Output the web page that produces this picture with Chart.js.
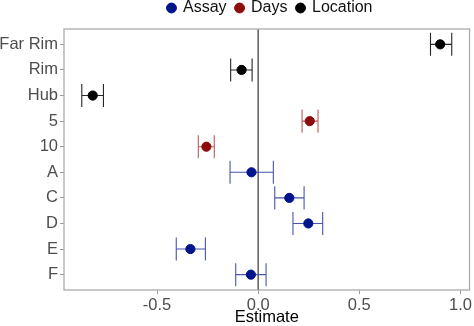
<!DOCTYPE html>
<html>
<head>
<meta charset="utf-8">
<script src="https://cdn.jsdelivr.net/npm/chart.js@4"></script>
<style>
  body { margin: 0; background: #fff; }
  #box { width: 474px; height: 326px; }
</style>
</head>
<body>
<div id="box"><canvas id="grafico"></canvas></div>
<script>
const categories = ['Far Rim', 'Rim', 'Hub', '5', '10', 'A', 'C', 'D', 'E', 'F'];
const groups = ['Location', 'Location', 'Location', 'Days', 'Days', 'Assay', 'Assay', 'Assay', 'Assay', 'Assay'];
const estimates = [0.900, -0.082, -0.818, 0.255, -0.256, -0.033, 0.154, 0.248, -0.335, -0.036];
const lower = [0.852, -0.136, -0.872, 0.217, -0.296, -0.139, 0.082, 0.172, -0.405, -0.111];
const upper = [0.957, -0.030, -0.765, 0.296, -0.217, 0.075, 0.227, 0.319, -0.261, 0.039];
const seriesNames = ['Assay', 'Days', 'Location'];
const xTicks = [-0.5, 0, 0.5, 1.0];

const cores = {
  Assay: { ponto: '#00158c', barra: '#4755ad' },
  Days: { ponto: '#8e0b0b', barra: '#bd5b5b' },
  Location: { ponto: '#000000', barra: '#262626' }
};

const fonte = "'Liberation Sans', Arial, sans-serif";

const datasets = seriesNames.map(nome => {
  const pontos = [];
  categories.forEach((cat, i) => {
    if (groups[i] === nome) {
      pontos.push({ x: estimates[i], y: i, lo: lower[i], hi: upper[i] });
    }
  });
  return {
    label: nome,
    data: pontos,
    xAxisID: 'x',
    yAxisID: 'y',
    backgroundColor: cores[nome].ponto,
    borderColor: cores[nome].ponto,
    pointRadius: 4.6,
    pointHoverRadius: 4.6,
    borderWidth: 1
  };
});

// linha do zero, barras de erro e moldura
const extras = {
  id: 'extras',
  afterLayout(chart) {
    // legenda centrada sobre o painel, como no ggplot
    chart.legend.left += 34;
    chart.legend.right += 34;
  },
  beforeDatasetsDraw(chart) {
    const { ctx, chartArea, scales } = chart;
    const x = scales.x, y = scales.y;
    ctx.save();
    ctx.strokeStyle = '#5c5c5c';
    ctx.lineWidth = 1.5;
    ctx.beginPath();
    const x0 = x.getPixelForValue(0);
    ctx.moveTo(x0, chartArea.top);
    ctx.lineTo(x0, chartArea.bottom);
    ctx.stroke();

    chart.data.datasets.forEach((ds, d) => {
      if (!chart.isDatasetVisible(d)) return;
      ctx.strokeStyle = cores[ds.label].barra;
      ctx.lineWidth = 1.1;
      ds.data.forEach(p => {
        const xa = x.getPixelForValue(p.lo);
        const xb = x.getPixelForValue(p.hi);
        const yc = y.getPixelForValue(p.y);
        const y1 = y.getPixelForValue(p.y - 0.45);
        const y2 = y.getPixelForValue(p.y + 0.45);
        ctx.beginPath();
        ctx.moveTo(xa, yc); ctx.lineTo(xb, yc);
        ctx.moveTo(xa, y1); ctx.lineTo(xa, y2);
        ctx.moveTo(xb, y1); ctx.lineTo(xb, y2);
        ctx.stroke();
      });
    });
    ctx.restore();
  },
  afterDraw(chart) {
    const { ctx, chartArea } = chart;
    ctx.save();
    ctx.strokeStyle = '#ababab';
    ctx.lineWidth = 1.3;
    ctx.strokeRect(chartArea.left, chartArea.top, chartArea.right - chartArea.left, chartArea.bottom - chartArea.top);
    ctx.restore();
  }
};

new Chart(document.getElementById('grafico'), {
  type: 'scatter',
  data: { datasets: datasets },
  plugins: [extras],
  options: {
    responsive: true,
    maintainAspectRatio: false,
    animation: false,
    layout: { autoPadding: false, padding: { top: -9.5, right: 1.5, bottom: 0, left: 0 } },
    plugins: {
      tooltip: { enabled: false },
      legend: {
        position: 'top',
        align: 'center',
        labels: {
          usePointStyle: true,
          pointStyle: 'circle',
          boxWidth: 7,
          boxHeight: 7,
          padding: 9.5,
          color: '#111',
          font: { family: fonte, size: 16 }
        }
      }
    },
    scales: {
      xTop: {
        type: 'linear',
        position: 'top',
        display: true,
        ticks: { display: false },
        grid: { display: false },
        border: { display: false },
        afterFit: scale => { scale.height = 3; }
      },
      x: {
        type: 'linear',
        min: -0.96,
        max: 1.045,
        afterBuildTicks: scale => { scale.ticks = xTicks.map(v => ({ value: v })); },
        afterFit: scale => { scale.height = 36; },
        ticks: {
          color: '#4d4d4d',
          padding: 2,
          font: { family: fonte, size: 16.5 },
          callback: v => v.toFixed(1)
        },
        grid: { drawOnChartArea: false, drawTicks: true, tickLength: 4, color: '#9a9a9a' },
        border: { display: false },
        title: {
          display: true,
          text: 'Estimate',
          color: '#000',
          padding: { top: 0, bottom: -1 },
          font: { family: fonte, size: 16.5 }
        }
      },
      y: {
        type: 'linear',
        reverse: true,
        min: -0.6,
        max: 9.6,
        afterBuildTicks: scale => { scale.ticks = categories.map((c, i) => ({ value: i })); },
        afterFit: scale => { scale.width = 64; },
        ticks: {
          color: '#4d4d4d',
          padding: 2,
          font: { family: fonte, size: 16.5 },
          callback: v => categories[v]
        },
        grid: { drawOnChartArea: false, drawTicks: true, tickLength: 4, color: '#9a9a9a' },
        border: { display: false }
      }
    }
  }
});
</script>
</body>
</html>
